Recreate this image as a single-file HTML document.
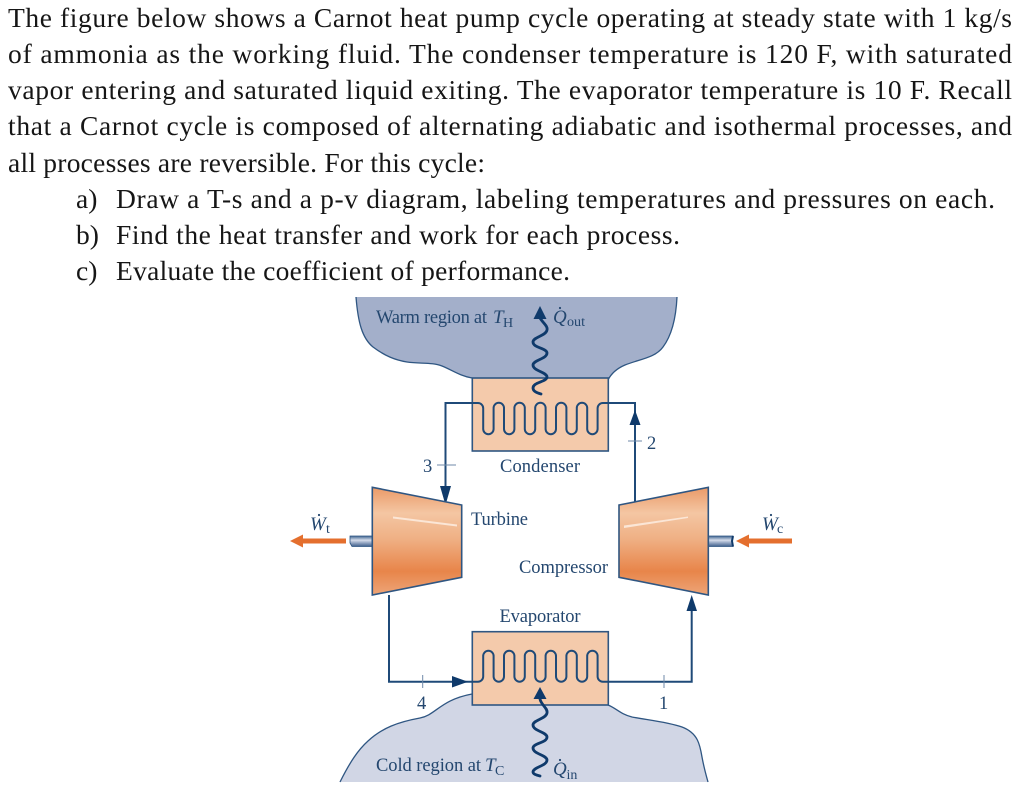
<!DOCTYPE html>
<html><head><meta charset="utf-8"><style>
html,body{margin:0;padding:0;background:#fff}
svg{display:block}
.t{font-family:"Liberation Serif",serif;font-size:27.5px;fill:#161616}
.l{font-family:"Liberation Serif",serif;font-size:18.5px;fill:#24476f}
.s{font-size:14px}
.i{font-style:italic;font-size:19px}
</style></head><body>
<svg width="1024" height="793" viewBox="0 0 1024 793" xmlns="http://www.w3.org/2000/svg">
<defs>
<linearGradient id="g" x1="0" y1="0" x2="0" y2="1">
<stop offset="0" stop-color="#ea9a68"/><stop offset=".24" stop-color="#f4c6a3"/><stop offset=".48" stop-color="#efb084"/><stop offset=".78" stop-color="#e8854a"/><stop offset="1" stop-color="#eda578"/>
</linearGradient>
<linearGradient id="sh" x1="0" y1="0" x2="0" y2="1">
<stop offset="0" stop-color="#3f6490"/><stop offset=".4" stop-color="#d5dcea"/><stop offset="1" stop-color="#3f5f8c"/>
</linearGradient>
</defs>

<g class="t">
<text x="8" y="27" textLength="1004" lengthAdjust="spacing">The figure below shows a Carnot heat pump cycle operating at steady state with 1 kg/s</text>
<text x="8" y="63" textLength="1004" lengthAdjust="spacing">of ammonia as the working fluid. The condenser temperature is 120 F, with saturated</text>
<text x="8" y="99" textLength="1004" lengthAdjust="spacing">vapor entering and saturated liquid exiting. The evaporator temperature is 10 F. Recall</text>
<text x="8" y="135" textLength="1004" lengthAdjust="spacing">that a Carnot cycle is composed of alternating adiabatic and isothermal processes, and</text>
<text x="8" y="172" textLength="477" lengthAdjust="spacing">all processes are reversible. For this cycle:</text>
<text x="76" y="208">a)</text>
<text x="116" y="208" textLength="879" lengthAdjust="spacing">Draw a T-s and a p-v diagram, labeling temperatures and pressures on each.</text>
<text x="76" y="244">b)</text>
<text x="116" y="244" textLength="564" lengthAdjust="spacing">Find the heat transfer and work for each process.</text>
<text x="76" y="280">c)</text>
<text x="116" y="280" textLength="454" lengthAdjust="spacing">Evaluate the coefficient of performance.</text>
</g>

<path d="M356 297 C358 322 362 338 373 347 C385 356 395 360 407 362 C420 364 432 362 442 366 C452 370 460 376 472 378 L608 380 C612 372 618 368 625 365 C640 359 655 358 663 347 C672 335 676 318 677 297 Z" fill="#a3afca"/>
<path d="M356 297 C358 322 362 338 373 347 C385 356 395 360 407 362 C420 364 432 362 442 366 C452 370 460 376 472 378 M608 380 C612 372 618 368 625 365 C640 359 655 358 663 347 C672 335 676 318 677 297" fill="none" stroke="#2f5682" stroke-width="1.3"/>
<path d="M340 782 C350 762 358 750 368 741 C382 728 398 722 420 718 C436 715 440 700 472 694 L608 705 C616 708 620 714 632 717 C648 720 668 722 682 727 C698 733 700 745 702 757 C704 768 706 775 708 782 Z" fill="#d1d6e5"/>
<path d="M340 782 C350 762 358 750 368 741 C382 728 398 722 420 718 C436 715 440 700 472 694 M608 705 C616 708 620 714 632 717 C648 720 668 722 682 727 C698 733 700 745 702 757 C704 768 706 775 708 782" fill="none" stroke="#2f5682" stroke-width="1.3"/>

<rect x="472.3" y="378" width="136" height="73" fill="#f4caab" stroke="#2f5682" stroke-width="1.6"/>
<rect x="472.3" y="631.7" width="136" height="73.3" fill="#f4caab" stroke="#2f5682" stroke-width="1.6"/>

<g fill="none" stroke="#1f4a78" stroke-width="2">
<path d="M445.5 490 V403 H478 a5.2 5.2 0 0 1 5.2 5.2 V429 a5.2 5.2 0 0 0 10.4 0 V408 a5.2 5.2 0 0 1 10.4 0 V429 a5.2 5.2 0 0 0 10.4 0 V408 a5.2 5.2 0 0 1 10.4 0 V429 a5.2 5.2 0 0 0 10.4 0 V408 a5.2 5.2 0 0 1 10.4 0 V429 a5.2 5.2 0 0 0 10.4 0 V408 a5.2 5.2 0 0 1 10.4 0 V429 a5.2 5.2 0 0 0 10.4 0 V408 a5.2 5.2 0 0 1 10.4 0 V429 a5.2 5.2 0 0 0 10.4 0 V408.2 a5.2 5.2 0 0 1 5.2 -5.2 H635 V505"/>
<path d="M389 595 V681.7 H478 a5.2 5.2 0 0 0 5.2 -5.2 V656 a5.2 5.2 0 0 1 10.4 0 V676.5 a5.2 5.2 0 0 0 10.4 0 V656 a5.2 5.2 0 0 1 10.4 0 V676.5 a5.2 5.2 0 0 0 10.4 0 V656 a5.2 5.2 0 0 1 10.4 0 V676.5 a5.2 5.2 0 0 0 10.4 0 V656 a5.2 5.2 0 0 1 10.4 0 V676.5 a5.2 5.2 0 0 0 10.4 0 V656 a5.2 5.2 0 0 1 10.4 0 V676.5 a5.2 5.2 0 0 0 10.4 0 V656 a5.2 5.2 0 0 1 10.4 0 V676.5 a5.2 5.2 0 0 0 5.2 5.2 H691.7 V600"/>
</g>
<g stroke="#6f89a9" stroke-width="1" fill="none">
<path d="M437 465 H456"/><path d="M628 441 H642"/><path d="M422.7 675 V688"/><path d="M664 675 V688"/>
</g>

<g fill="#0f3a6b">
<path d="M445.5 505 L440 486 H451 Z"/>
<path d="M635 410 L629.5 425 H640.5 Z"/>
<path d="M468 681.7 L452 676 V687.5 Z"/>
<path d="M691.7 595 L686.5 611 H697 Z"/>
<path d="M540 306 L533.500 319 H546.500 Z"/>
<path d="M540 687 L533.500 699 H546.500 Z"/>
</g>
<g fill="none" stroke="#0f3a6b" stroke-width="2.8" stroke-linecap="round">
<path d="M540 318 C543 323 548 326 547 330 C546 336 533 337 533 342 C533 348 547 348 547 353 C547 359 533 360 533 365 C533 371 547 372 547 377 C547 382 533 382 533 388 C533 391 537 393 541 394"/>
<path d="M540 699 C541 705 548 708 547 713 C546 719 533 720 533 725 C533 731 547 732 547 737 C547 743 533 743 533 748 C533 754 547 755 547 760 C547 766 533 767 533 772 C533 774 536 775 540 776"/>
</g>

<path d="M350 536 H372.3 V546.5 H352 L350 543 Z" fill="url(#sh)" stroke="#2f5682" stroke-width=".8"/>
<path d="M708.3 536 H733 L732 541 L733 546.5 H708.3 Z" fill="url(#sh)" stroke="#2f5682" stroke-width=".8"/>
<path d="M733 536 L732 541 L733 546.5" fill="none" stroke="#0f3a6b" stroke-width="2"/>

<path d="M372.3 487.3 L461.7 505 V577.3 L372.3 595 Z" fill="url(#g)" stroke="#2f5682" stroke-width="1.6"/>
<path d="M619 505 L708.3 487.3 V595 L619 577.3 Z" fill="url(#g)" stroke="#2f5682" stroke-width="1.6"/>
<path d="M393 516.500 L457 524.500 L457 526.500 L393 518.500 Z" fill="#fbe6d6"/>
<path d="M624 525.500 L688 516.500 L688 518 L624 528 Z" fill="#fbe6d6"/>

<g fill="#e46f2e">
<path d="M290 541 L303 534.500 V538.500 H346 V543.500 H303 V547.500 Z"/>
<path d="M736 541 L749 534.500 V538.500 H792 V543.500 H749 V547.500 Z"/>
</g>

<g class="l">
<text x="376" y="323" textLength="111" lengthAdjust="spacing">Warm region at</text>
<text x="493" y="323" class="i">T</text><text x="503" y="327" class="s">H</text>
<text x="553" y="323" class="i">Q</text><text x="567" y="326" class="s" textLength="18" lengthAdjust="spacingAndGlyphs">out</text>
<text x="500" y="472" textLength="80" lengthAdjust="spacing">Condenser</text>
<text x="423" y="472">3</text>
<text x="647" y="449">2</text>
<text x="471" y="525" textLength="57" lengthAdjust="spacing">Turbine</text>
<text x="519" y="573" textLength="89" lengthAdjust="spacing">Compressor</text>
<text x="499.500" y="622" textLength="81" lengthAdjust="spacing">Evaporator</text>
<text x="417" y="709">4</text>
<text x="659" y="709">1</text>
<text x="376" y="771" textLength="105" lengthAdjust="spacing">Cold region at</text>
<text x="485" y="771" class="i">T</text><text x="495" y="775" class="s">C</text>
<text x="553" y="775" class="i">Q</text><text x="566.500" y="779" class="s">in</text>
<text x="310" y="530" class="i">W</text><text x="326" y="533" class="s">t</text>
<text x="762" y="530" class="i">W</text><text x="777" y="533" class="s">c</text>
</g>
<g fill="#24476f">
<circle cx="560" cy="308" r="1.1"/><circle cx="560" cy="760" r="1.1"/>
<circle cx="319" cy="515" r="1.1"/><circle cx="771" cy="515" r="1.1"/>
</g>
</svg>
</body></html>
